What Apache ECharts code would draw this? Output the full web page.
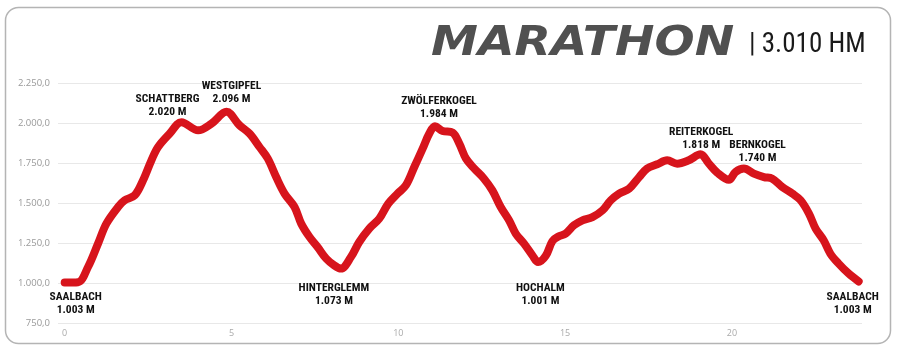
<!DOCTYPE html>
<html>
<head>
<meta charset="utf-8">
<title>Marathon</title>
<script src="https://cdn.jsdelivr.net/npm/echarts@6/dist/echarts.min.js"></script>
<style>
    html, body { margin: 0; padding: 0; background: #fff; }
    #chart { width: 900px; height: 353px; }
</style>
</head>
<body>
<div id="chart"></div>
<script>
// Streckenprofil: Kilometer und Höhe
var kmValues = [
    0, 0.4, 0.7, 1.0, 1.25, 1.6, 1.8, 2.1, 2.35, 2.6, 2.8, 3.15, 3.5, 4.0, 4.4, 4.85,
    5.24, 5.54, 5.84, 6.09, 6.34, 6.59, 6.89, 7.09, 7.34, 7.58, 7.84, 8.08, 8.28,
    8.58, 8.83, 9.13, 9.43, 9.7, 9.98, 10.23, 10.48, 10.73, 10.93, 11.1, 11.33, 11.63,
    11.83, 12.03, 12.28, 12.57, 12.82, 13.07, 13.32, 13.52, 13.77, 14.02, 14.19,
    14.42, 14.62, 14.8, 15.02, 15.27, 15.52, 15.82, 16.12, 16.37, 16.62, 16.92, 17.22,
    17.46, 17.76, 18.06, 18.36, 18.71, 19.06, 19.31, 19.56, 19.91, 20.11, 20.36, 20.66,
    20.96, 21.21, 21.51, 21.81, 22.06, 22.31, 22.51, 22.75, 22.95, 23.2, 23.5, 23.8
];
var elevValues = [
    1003, 1005, 1100, 1246, 1371, 1475, 1517, 1548, 1642, 1767, 1850, 1934, 2005, 1954, 1996, 2070,
    1986, 1934, 1850, 1777, 1662, 1559, 1475, 1371, 1287, 1225, 1152, 1110, 1090,
    1162, 1256, 1340, 1402, 1496, 1559, 1611, 1725, 1840, 1934, 1979, 1950, 1940,
    1871, 1777, 1715, 1652, 1579, 1475, 1392, 1309, 1246, 1173, 1131,
    1170, 1262, 1290, 1309, 1361, 1392, 1412, 1454, 1517, 1559, 1590, 1662,
    1715, 1742, 1767, 1746, 1767, 1804, 1746, 1690, 1645, 1694, 1715, 1684,
    1662, 1652, 1600, 1559, 1517, 1434, 1340, 1267, 1184, 1121, 1059, 1010
];

// Gipfel / Orte
var placeNames = ['SAALBACH', 'SCHATTBERG', 'WESTGIPFEL', 'HINTERGLEMM', 'ZWÖLFERKOGEL', 'HOCHALM', 'REITERKOGEL', 'BERNKOGEL', 'SAALBACH'];
var placeKm = [0, 3.5, 4.85, 8.28, 11.1, 14.2, 19.05, 20.35, 23.8];
var placeElev = [1003, 2020, 2096, 1073, 1984, 1001, 1818, 1740, 1003];

// Achsen
var xTickLabels = [0, 5, 10, 15, 20];
var yMin = 750, yMax = 2250, yStep = 250;

// Lage der Beschriftungen relativ zum Punkt (Pixel)
var labelOffsets = [[11, 21], [-14, -14], [5, -15], [-7, 23], [4, -18], [2, 12], [1, -13], [14, -13], [-6, 21]];

function deNumber(v, dec) {
    var s = v.toFixed(dec);
    var parts = s.split('.');
    var intPart = parts[0].replace(/\B(?=(\d{3})+(?!\d))/g, '.');
    return parts.length > 1 ? intPart + ',' + parts[1] : intPart;
}

(function () {
    var chart = echarts.init(document.getElementById('chart'), null, { renderer: 'canvas' });

    var lineData = [];
    for (var i = 0; i < kmValues.length; i++) {
        lineData.push([kmValues[i], elevValues[i]]);
    }

    var markData = [];
    for (var j = 0; j < placeNames.length; j++) {
        markData.push({
            name: placeNames[j],
            coord: [placeKm[j], placeElev[j]],
            value: placeElev[j],
            label: { offset: labelOffsets[j] }
        });
    }

    var option = {
        backgroundColor: '#fff',
        animation: false,
        grid: { left: 58, right: 38, top: 83, bottom: 30 },
        graphic: [
            {
                type: 'rect',
                shape: { x: 5.5, y: 7.5, width: 885, height: 336, r: 13 },
                style: { fill: 'none', stroke: '#b4b4b4', lineWidth: 1.5 },
                silent: true
            },
            {
                // Schriftzug, etwas in die Breite gezogen
                type: 'text',
                x: 431, y: 25,
                scaleX: 1.18,
                style: {
                    text: 'MARATHON',
                    fill: '#505050',
                    font: 'italic bold 40px "DejaVu Sans"',
                    textVerticalAlign: 'top'
                }
            },
            {
                type: 'text',
                left: 749, top: 32,
                style: {
                    text: '| 3.010 HM',
                    fill: '#1a1a1a',
                    font: '27px "Roboto Condensed"'
                }
            }
        ],
        xAxis: {
            type: 'value',
            min: -0.2,
            max: 23.9,
            axisLine: { show: false },
            axisTick: { show: false },
            splitLine: { show: false },
            axisLabel: {
                customValues: xTickLabels,
                color: '#aaa',
                fontSize: 9,
                fontFamily: 'Open Sans',
                margin: 6
            }
        },
        yAxis: {
            type: 'value',
            min: yMin,
            max: yMax,
            interval: yStep,
            axisLine: { show: false },
            axisTick: { show: false },
            splitLine: { lineStyle: { color: '#e8e8e8', width: 1 } },
            axisLabel: {
                color: '#999',
                fontSize: 9.5,
                fontFamily: 'Open Sans',
                margin: 8,
                formatter: function (v) { return deNumber(v, 1); }
            }
        },
        series: [{
            type: 'line',
            data: lineData,
            smooth: 0.35,
            showSymbol: false,
            silent: true,
            lineStyle: { color: '#d7141c', width: 8, cap: 'round', join: 'round' },
            markPoint: {
                symbol: 'circle',
                symbolSize: 0,
                silent: true,
                label: {
                    show: true,
                    position: 'inside',
                    color: '#111',
                    fontFamily: '"Roboto Condensed"',
                    fontWeight: 'bold',
                    fontSize: 11.5,
                    lineHeight: 13,
                    align: 'center',
                    formatter: function (p) {
                        return p.name + '\n' + deNumber(p.value, 0) + ' M';
                    }
                },
                data: markData
            }
        }]
    };

    chart.setOption(option);
})();
</script>
</body>
</html>
